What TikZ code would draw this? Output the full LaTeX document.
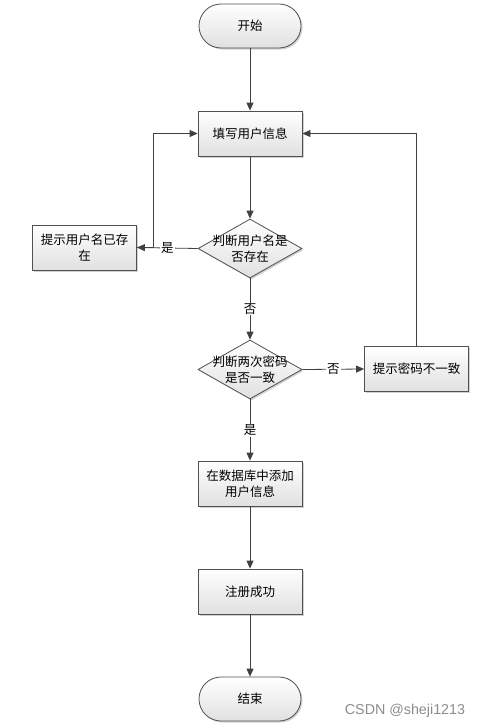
\documentclass[tikz,border=0pt]{standalone}
\usepackage{fontspec}
\setmainfont{Noto Sans CJK SC}
\newfontfamily\wmfont{Liberation Sans}
\usetikzlibrary{shapes.geometric,arrows.meta,shadows}
\definecolor{lc}{HTML}{404040}
\definecolor{bc}{HTML}{505050}
\tikzset{
  base/.style={draw=bc, line width=0.8pt, shading=axis, top color=white, bottom color=black!12,
    drop shadow={shadow xshift=1.5pt, shadow yshift=-1.5pt, fill=black!30, opacity=0.6},
    font=\fontsize{12.5}{16}\selectfont, align=center, inner sep=0pt},
  procbox/.style={base, rectangle, minimum width=104pt, minimum height=45pt, text width=100pt},
  termbox/.style={base, rectangle, rounded corners=22pt, minimum width=102pt, minimum height=44pt},
  decbox/.style={base, diamond, minimum width=104pt, minimum height=59pt},
  dtext/.style={font=\fontsize{12.5}{16}\selectfont, align=center, text width=92pt, inner sep=0pt},
  arr/.style={draw=lc, line width=0.8pt, -{Triangle[length=8pt,width=7pt]}},
  lbl/.style={fill=white, font=\fontsize{12.5}{14}\selectfont, inner sep=1pt, text=black}
}
\begin{document}
\begin{tikzpicture}[x=1pt,y=-1pt]
\useasboundingbox (0,0) rectangle (481,728);
\node[termbox] (start) at (250,26) {开始};
\node[procbox] (fill) at (250,133.5) {填写用户信息};
\node[decbox] (d1) at (250,248.5) {};
\node[dtext] (d1t) at (250,248.5) {判断用户名是\\否存在};
\node[procbox] (exists) at (84.5,247.5) {提示用户名已存\\在};
\node[decbox] (d2) at (250,369.5) {};
\node[dtext] (d2t) at (250,369.5) {判断两次密码\\是否一致};
\node[procbox] (pw) at (416.5,369) {提示密码不一致};
\node[procbox] (add) at (250,483.5) {在数据库中添加\\用户信息};
\node[procbox] (ok) at (250,591.5) {注册成功};
\node[termbox] (end) at (250,699) {结束};
\node[text=black!45, font=\wmfont\fontsize{14.3}{16}\selectfont, inner sep=0pt] (wm) at (405,711) {CSDN @sheji1213};

\draw[arr] (start.south) -- (fill.north);
\draw[arr] (fill.south) -- (d1.north);
\draw[arr] (d1.west) -- node[lbl] (l1) {是} (exists.east);
\draw[arr] (exists.east) -- ++(16,0) |- (fill.west);
\draw[arr] (d1.south) -- node[lbl] (l2) {否} (d2.north);
\draw[arr] (d2.east) -- node[lbl] (l3) {否} (pw.west);
\draw[arr] (pw.north) |- (fill.east);
\draw[arr] (d2.south) -- node[lbl] (l4) {是} (add.north);
\draw[arr] (add.south) -- (ok.north);
\draw[arr] (ok.south) -- (end.north);
\end{tikzpicture}
\end{document}
